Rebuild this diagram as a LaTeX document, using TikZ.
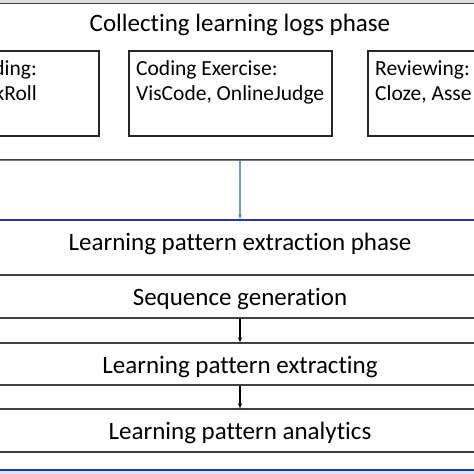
\documentclass[tikz,border=0pt]{standalone}
\usepackage{fontspec}
\setmainfont[Ligatures=NoCommon]{Carlito}
\usetikzlibrary{arrows.meta}
\definecolor{framegray}{HTML}{404040}
\definecolor{edgegray}{HTML}{7A7A7A}
\definecolor{phaseblue}{HTML}{2233BB}
\definecolor{arrowblue}{HTML}{6A9AD0}
\definecolor{topfill}{HTML}{DCDCDC}
\definecolor{nextfill}{HTML}{E2E2F4}
\tikzset{
  phase/.style={draw, rectangle, line width=1.3pt, inner sep=0pt, minimum width=580pt},
  stepbox/.style={phase, draw=framegray, line width=1.4pt},
  logbox/.style={draw=black!85, rectangle, line width=1.4pt, inner sep=0pt},
  title/.style={anchor=base, font=\fontsize{25}{29}\selectfont},
  boxtext/.style={anchor=base west, font=\fontsize{21.5}{25}\selectfont, inner sep=0pt},
}
\begin{document}
\begin{tikzpicture}[x=1pt, y=-1pt, >={Stealth[length=5pt,width=4pt]}]
\useasboundingbox (0,0) rectangle (474,474);
\clip (0,0) rectangle (474,474);
\fill[topfill] (-10,-10) rectangle (484,3.5);
\fill[nextfill] (-10,470) rectangle (484,484);

% collecting phase
\node[phase, draw=framegray, minimum height=156.5pt] (collect) at (240,81.75) {};
\draw[edgegray, line width=1.3pt] (collect.south west) -- (collect.south east);
\node[title] (collectT) at (240,31) {Collecting learning logs phase};

\node[logbox, minimum width=160pt, minimum height=85pt] (reading) at (19,93.5) {};
\node[boxtext, anchor=base east] (readingA) at (37,75) {ding:};
\node[boxtext, anchor=base east] (readingB) at (37,100) {kRoll};

\node[logbox, minimum width=203pt, minimum height=85pt] (coding) at (230.5,93.5) {};
\node[boxtext] (codingA) at (136,75) {Coding Exercise:};
\node[boxtext] (codingB) at (136,100) {VisCode, OnlineJudge};

\node[logbox, minimum width=160pt, minimum height=85pt] (review) at (448,93.5) {};
\node[boxtext] (reviewA) at (375,75) {Reviewing:};
\node[boxtext] (reviewB) at (375,100) {Cloze, Asse};

% extraction phase
\node[phase, draw=phaseblue, minimum height=250pt] (extract) at (240,345) {};
\node[title] (extractT) at (240,250) {Learning pattern extraction phase};

\node[stepbox, minimum height=43pt] (seqgen) at (240,296.5) {};
\node[title] (seqgenT) at (240,305) {Sequence generation};
\node[stepbox, minimum height=42pt] (patext) at (240,364) {};
\node[title] (patextT) at (240,373) {Learning pattern extracting};
\node[stepbox, minimum height=43pt] (patana) at (240,430.5) {};
\node[title] (patanaT) at (240,439) {Learning pattern analytics};

\draw[->, arrowblue, line width=1.2pt] (collect.south) -- (extract.north);
\draw[->, black, line width=1.2pt] (seqgen.south) -- (patext.north);
\draw[->, black, line width=1.2pt] (patext.south) -- (patana.north);
\end{tikzpicture}
\end{document}
